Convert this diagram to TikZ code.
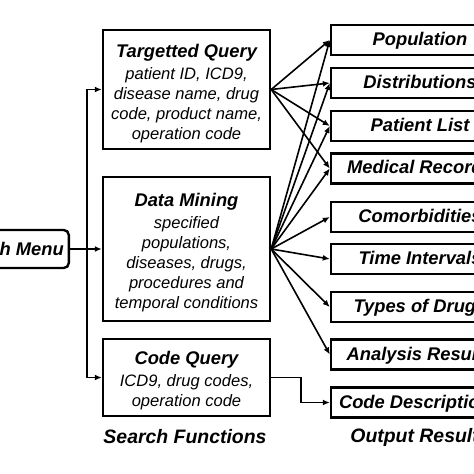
\documentclass[tikz,border=0pt]{standalone}
\usepackage{fontspec}
\setmainfont{Liberation Sans}
\usetikzlibrary{arrows.meta}
\newcommand\ttlfont{\fontsize{18.4}{22}\selectfont\bfseries\itshape}
\newcommand\bdyfont{\fontsize{16.6}{20.2}\selectfont\mdseries\itshape}
\newcommand\lblfont{\fontsize{19.5}{23}\selectfont\bfseries\itshape}
\begin{document}
\begin{tikzpicture}[x=1bp,y=-1bp,
  box/.style={draw, line width=2.4bp, align=center, inner sep=0pt, minimum width=167bp, font=\bdyfont},
  outbox/.style={draw, line width=2.4bp, minimum width=178bp, minimum height=30bp, inner sep=0pt, text height=13bp, text depth=2bp, font=\ttlfont},
  conn/.style={line width=1.6bp, -{Latex[length=7bp,width=6bp]}},
  lbl/.style={font=\lblfont, inner sep=0pt}
]
\useasboundingbox (0,0) rectangle (474,474);
\clip (0,0) rectangle (474,474);
\fill[white] (0,0) rectangle (474,474);

\node[box, minimum height=119bp] (tq) at (186.5,89.5)
  {{\ttlfont\rule{0pt}{22bp}Targetted Query}\\[1.5bp] patient ID, ICD9,\\ disease name, drug\\ code, product name,\\ operation code};
\node[box, minimum height=144bp] (dm) at (186.5,249)
  {{\ttlfont\rule{0pt}{21bp}Data Mining}\\[1.5bp] specified\\ populations,\\ diseases, drugs,\\ procedures and\\ temporal conditions};
\node[box, minimum height=77bp] (cq) at (186.5,377.5)
  {{\ttlfont\rule{0pt}{20bp}Code Query}\\[1.5bp] ICD9, drug codes,\\ operation code};

\node[draw, line width=2.4bp, rounded corners=5bp, font=\ttlfont, minimum height=38bp, inner xsep=5bp, inner ysep=0pt, anchor=east] (menu) at (70,249) {Search Menu};

\node[outbox] (pop) at (420,40) {Population};
\node[outbox] (dis) at (420,83) {Distributions};
\node[outbox] (pl) at (420,126) {Patient List};
\node[outbox] (mr) at (420,168.5) {Medical Records};
\node[outbox] (com) at (420,217) {Comorbidities};
\node[outbox] (ti) at (420,259) {Time Intervals};
\node[outbox] (tod) at (420,307) {Types of Drugs};
\node[outbox] (ar) at (420,354.5) {Analysis Results};
\node[outbox] (cd) at (420,402.5) {Code Descriptions};

\node[lbl] (sf) at (185,437) {Search Functions};
\node[lbl] (orl) at (420,437) {Output Results};

\coordinate (j) at (87,249);
\coordinate (bend) at (301,377.5);

\draw[conn] (menu.east) -- (dm.west);
\draw[conn] (j) |- (tq.west);
\draw[conn] (j) |- (cq.west);

\foreach \t in {pop,dis,pl,mr} \draw[conn] (tq.east) -- (\t.west);
\foreach \t in {pop,dis,pl,mr,com,ti,tod,ar} \draw[conn] (dm.east) -- (\t.west);
\draw[conn] (cq.east) -- (bend) |- (cd.west);
\end{tikzpicture}
\end{document}
